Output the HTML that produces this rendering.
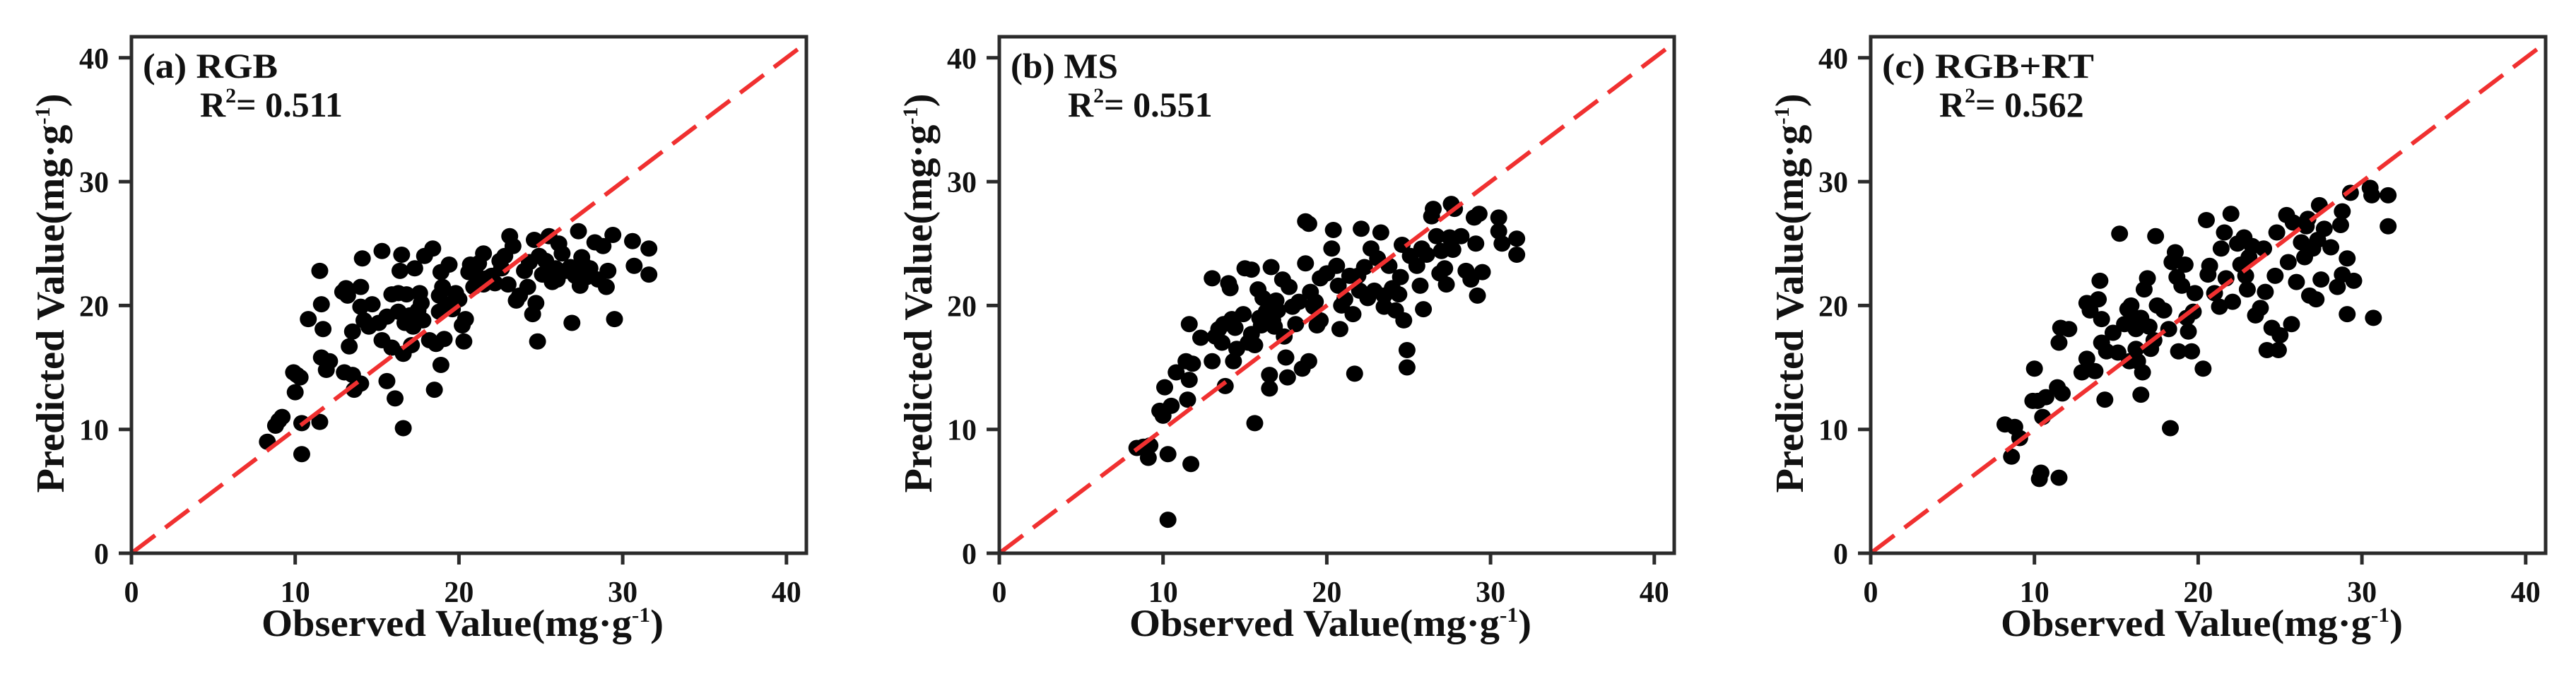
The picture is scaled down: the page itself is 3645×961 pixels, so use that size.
<!DOCTYPE html>
<html><head><meta charset="utf-8"><style>
html,body{margin:0;padding:0;background:#fff;}
svg{display:block;}
text{font-family:"Liberation Serif",serif;font-weight:bold;fill:#111;}
</style></head>
<body>
<svg id="fig" width="3645" height="961" viewBox="0 0 3645 961" xmlns="http://www.w3.org/2000/svg"></svg>
<script>
const ticks = [0, 10, 20, 30, 40];
const tickLabels = ["0", "10", "20", "30", "40"];
const panelTitles = ["(a) RGB", "(b) MS", "(c) RGB+RT"];
const r2Values = ["0.511", "0.551", "0.562"];
const obsA = [8.3,8.8,9,9.2,9.9,10.1,10,10.3,10.4,10.4,10.8,11.5,11.5,11.6,11.6,11.7,11.9,12.1,12.9,13,13.1,13.2,13.3,13.5,13.5,13.6,14,14,14,14.1,14.2,14.5,14.7,15.1,15.3,15.3,15.6,15.6,15.9,15.9,16.1,16.3,16.4,16.5,16.6,16.6,16.7,16.8,17,17.1,17.2,17.3,17.5,17.6,17.8,17.9,18.2,18.4,18.5,18.6,18.8,18.9,18.9,19,19.1,19.2,19.4,19.6,19.8,20,20.2,20.3,20.4,20.6,20.7,20.9,21,21.2,21.5,21.7,22,22.2,22.5,22.8,23,23.1,23.3,23.5,23.7,24,24.2,24.3,24.5,24.6,24.7,24.8,24.9,25.1,25.3,25.5,25.7,25.9,26.1,26.3,26.5,26.8,26.9,27.1,27.3,27.4,27.6,27.8,28,28.3,28.5,28.8,29,29.1,29.4,29.5,30.6,30.7,31.6,31.6,27.5,26,22.6,21.5,17.7,16.3,18.8];
const predA = [9,10.3,10.7,11,14.6,14.4,13,14.2,10.5,8,18.9,22.8,10.6,15.8,20.1,18.1,14.8,15.5,21.1,14.6,21.4,20.8,16.7,14.4,17.9,13.2,13.7,19.9,21.5,23.8,18.8,18.3,20.1,18.6,24.4,17.2,19.1,13.9,20.9,16.6,12.5,19.5,22.8,24.1,10.1,16.1,18.6,20.9,19.2,16.8,18.3,23,19.6,21,18.8,24,17.2,24.6,13.2,16.9,20.8,15.2,22.7,21.5,17.3,20.1,23.3,19.7,21,20.5,18.4,17.1,18.9,22.7,23.3,21.5,22.6,23.4,24.2,22.2,22.4,21.8,23.6,24,21.7,25.6,24.8,20.4,20.8,22.8,21.5,23.5,19.3,25.3,20.2,17.1,24,22.5,23.6,25.6,21.9,23,25,24.2,22.8,23.1,18.6,22.4,26,21.6,23.3,22.3,23,25.1,22.1,24.8,21.5,22.8,25.7,18.9,25.2,23.2,24.6,22.5,23.9,22.1,23,21.7,20.2,21,19.5];
const obsB = [8.4,8.8,9.1,9.2,9.8,10,10.1,10.3,10.3,10.5,10.8,11.4,11.5,11.6,11.6,11.7,11.8,12.3,13,13,13.2,13.4,13.6,13.7,13.8,14,14.1,14.2,14.3,14.4,14.5,14.9,15,15.4,15.2,15.4,15.6,15.6,15.8,15.9,16,16.1,16.3,16.5,16.5,16.6,16.7,16.9,17,17.3,17.4,17.5,17.6,17.7,17.9,18.1,18.3,18.5,18.7,18.7,18.9,18.9,19,19.2,19.4,19.6,19.6,20,20.3,20.4,20.6,20.7,20.8,20.9,21.1,21.4,21.6,21.7,21.9,22.1,22.3,22.5,22.7,22.9,23.1,23.3,23.5,23.5,23.8,24,24.2,24.4,24.5,24.6,24.7,24.9,24.9,25.1,25.5,25.7,25.8,25.9,26.1,26.4,26.5,26.7,26.9,27,27.2,27.3,27.5,27.6,27.7,27.8,28.2,28.5,28.8,29,29.1,29.2,29.3,29.5,30.5,30.5,30.7,31.6,31.6,22,16.8,19.3];
const predB = [8.5,8.6,7.7,8.7,11.5,11.1,13.4,8,2.7,11.9,14.6,15.5,12.4,18.5,14,7.2,15.3,17.4,22.2,15.5,17.5,18.1,17,18.5,13.5,21.8,21.4,18.9,15.5,18.2,16.5,19.3,23,22.9,17,17.7,16.8,10.5,21.3,19,18.4,20.6,19.5,14.4,13.3,23.1,18.8,20.4,19.6,22.1,17.5,15.8,14.2,21.5,19.9,18.5,20.3,14.9,23.4,26.8,26.6,15.5,21.1,19.9,18.4,18.8,22.2,22.6,24.6,26.1,23.2,21.6,18.1,20,20.5,22.4,19.3,14.5,22.4,26.2,23.1,20.6,24.6,21.2,23.8,25.9,19.9,20.8,23.2,21.4,19.6,20.9,22.3,24.9,18.8,16.4,15,24,23.2,21.6,24.6,19.7,24.1,27.2,27.8,25.6,22.6,24.4,23,21.7,25.5,28.2,24.5,27.8,25.6,22.8,22.1,27.1,25,20.8,27.4,22.7,27.1,26,25,25.4,24.1,21.2,18.3,20.3];
const obsC = [8.2,8.6,8.8,9.1,9.9,10,10.2,10.3,10.4,10.5,10.7,11.4,11.5,11.5,11.6,11.7,12.1,12.9,13.2,13.2,13.4,13.7,13.9,14,14.1,14.1,14.3,14.4,14.8,15.1,15.2,15.5,15.7,15.8,15.9,16.1,16.2,16.3,16.5,16.5,16.6,16.7,16.9,17,17.1,17.3,17.4,17.5,17.9,18.2,18.3,18.4,18.6,18.7,18.8,19,19.2,19.3,19.4,19.6,19.8,20.3,20.5,20.6,20.7,21,21.3,21.4,21.6,21.7,22,22.1,22.4,22.6,22.8,23,23.1,23.3,23.5,23.8,24,24.2,24.5,24.7,24.8,24.9,25,25.4,25.5,25.7,25.8,26,26.3,26.5,26.6,26.7,26.8,27,27.2,27.3,27.4,27.5,27.7,28.1,28.5,28.7,28.8,28.8,29.1,29.1,29.3,29.5,30.5,30.6,30.7,31.6,31.6,24.1,19.7,16.2,22.9];
const predC = [10.4,7.8,10.2,9.3,12.3,14.9,12.3,6,6.5,11,12.6,13.4,17,6.1,18.2,12.9,18.1,14.6,15.7,20.2,19.6,14.7,20.5,22,17,18.9,12.4,16.3,17.8,16.2,25.8,18.5,19.7,15.5,20,18.8,16.5,15.5,19,12.8,14.6,21.3,22.2,18.3,16.5,17.2,25.6,20,19.6,18.1,10.1,23.5,24.3,22.3,16.3,21.6,23.3,19,17.9,16.3,21,14.9,26.9,22.5,23.2,21,19.9,24.6,25.9,22.2,27.4,20.3,25,23.3,25.5,21.3,23.9,24.8,19.2,19.8,24.6,16.4,18.2,22.4,25.9,16.4,17.6,27.3,23.5,18.5,26.7,21.9,25.1,23.9,26.4,27,20.8,24.6,20.5,25.3,28.1,22.1,26.2,24.7,21.5,26.5,27.6,22.5,23.8,19.3,29.1,22,29.5,28.9,19,28.9,26.4,21.1,19.5,18.1,22.4];

const NS = "http://www.w3.org/2000/svg";
const svg = document.getElementById('fig');
function mk(tag, attrs, parent) {
  const e = document.createElementNS(NS, tag);
  for (const k in attrs) e.setAttribute(k, attrs[k]);
  (parent || svg).appendChild(e);
  return e;
}
const panelX0 = [186, 1414, 2647];
const titleW = [191, 152, 300];
const UX = 23.17, UY = 17.53, Y0 = 783, TOPY = 52, W = 955;
const series = [[obsA, predA], [obsB, predB], [obsC, predC]];
const names = ['rgb', 'ms', 'rgb-rt'];

series.forEach(function (s, p) {
  const x0 = panelX0[p];
  const sx = v => x0 + v * UX;
  const sy = v => Y0 - v * UY;
  const g = mk('g', {});
  
  
  const pts = mk('g', {}, g);
  
  
  s[0].forEach(function (ov, i) {
    const c = mk('ellipse', {cx: sx(ov), cy: sy(s[1][i]), rx: 12, ry: 11.5, fill: '#000'}, pts);
    
    
  });
  const maxV = W / UX;
  const ln = mk('line', {x1: sx(0), y1: sy(0), x2: sx(maxV), y2: sy(maxV),
    stroke: '#f03030', 'stroke-width': 6, 'stroke-dasharray': '42 18'}, g);
  
  
  const fr = mk('rect', {x: x0, y: TOPY, width: W, height: Y0 - TOPY, fill: 'none', stroke: '#2b2b2b', 'stroke-width': 5}, g);
  
  
  ticks.forEach(function (t, i) {
    const tx = mk('line', {x1: sx(t), y1: Y0, x2: sx(t), y2: Y0 + 16, stroke: '#2b2b2b', 'stroke-width': 5}, g);
    
    
    const lx = mk('text', {x: sx(t), y: 852, 'text-anchor': 'middle', 'font-size': 42}, g);
    lx.textContent = tickLabels[i];
    
    
    const ty = mk('line', {x1: x0 - 18, y1: sy(t), x2: x0, y2: sy(t), stroke: '#2b2b2b', 'stroke-width': 5}, g);
    
    
    const ly = mk('text', {x: x0 - 32, y: sy(t) + 15, 'text-anchor': 'end', 'font-size': 42}, g);
    ly.textContent = tickLabels[i];
    
    
  });
  const xt = mk('text', {x: x0 + 184, y: 900, 'font-size': 54, textLength: 569, lengthAdjust: 'spacingAndGlyphs'}, g);
  xt.innerHTML = 'Observed Value(mg·g<tspan dy="-20" font-size="30">-1</tspan><tspan dy="20">)</tspan>';
  
  
  const yt = mk('text', {x: 0, y: 0, 'text-anchor': 'middle', 'font-size': 56, textLength: 565, lengthAdjust: 'spacingAndGlyphs',
    transform: 'translate(' + (x0 - 96) + ',' + 415 + ') rotate(-90)'}, g);
  yt.innerHTML = 'Predicted Value(mg·g<tspan dy="-20" font-size="30">-1</tspan><tspan dy="20">)</tspan>';
  
  
  const pt = mk('text', {x: x0 + 16, y: 110, 'font-size': 50, textLength: titleW[p], lengthAdjust: 'spacingAndGlyphs'}, g);
  pt.textContent = panelTitles[p];
  
  
  const r2 = mk('text', {x: x0 + 97, y: 165, 'font-size': 50}, g);
  r2.innerHTML = 'R<tspan dy="-20" font-size="30">2</tspan><tspan dy="20">= ' + r2Values[p] + '</tspan>';
  
  
});
</script>
</body></html>
